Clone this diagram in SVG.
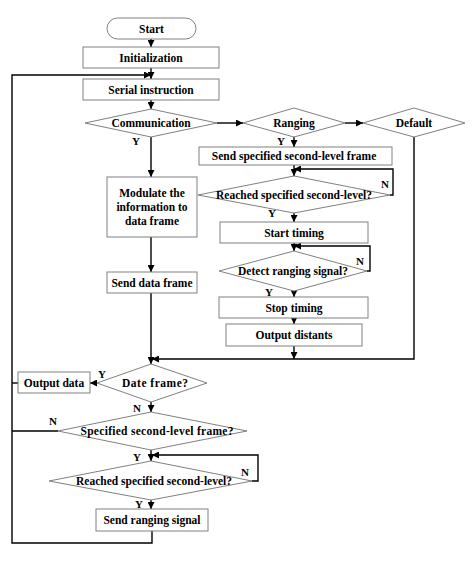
<svg xmlns="http://www.w3.org/2000/svg" width="474" height="569" viewBox="0 0 474 569">
<defs>
<style>
.n{fill:#fff;stroke:#808080;stroke-width:1}
.t{font-family:"Liberation Serif","Times New Roman",serif;font-weight:bold;font-size:11.5px;fill:#000;text-anchor:middle;dominant-baseline:central}
.l{font-family:"Liberation Serif","Times New Roman",serif;font-weight:bold;font-size:11px;fill:#000;text-anchor:middle;dominant-baseline:central}
.c{fill:none;stroke:#000;stroke-width:1.4}
</style>
<marker id="a" viewBox="0 0 8 8" refX="8" refY="4" markerWidth="7" markerHeight="7" markerUnits="userSpaceOnUse" orient="auto">
<path d="M0,0 L8,4 L0,8 Z" fill="#000"/>
</marker>
</defs>
<rect width="474" height="569" fill="#fff"/>
<g id="connectors">
<path class="c" d="M151,39 V47" marker-end="url(#a)"/>
<path class="c" d="M151,68 V79" marker-end="url(#a)"/>
<path class="c" d="M152,531 V543 H12 V75 H151" marker-end="url(#a)"/>
<path class="c" d="M151,100 V109" marker-end="url(#a)"/>
<path class="c" d="M217,123 H243" marker-end="url(#a)"/>
<path class="c" d="M345,123 H363" marker-end="url(#a)"/>
<path class="c" d="M294,137 V147" marker-end="url(#a)"/>
<path class="c" d="M294,165 V176" marker-end="url(#a)"/>
<path class="c" d="M390,195 H393 V169 H294" marker-end="url(#a)"/>
<path class="c" d="M294,213 V222" marker-end="url(#a)"/>
<path class="c" d="M294,243 V251" marker-end="url(#a)"/>
<path class="c" d="M367,271 H370 V246 H294" marker-end="url(#a)"/>
<path class="c" d="M294,291 V297" marker-end="url(#a)"/>
<path class="c" d="M294,318 V324" marker-end="url(#a)"/>
<path class="c" d="M294,346 V359" marker-end="url(#a)"/>
<path class="c" d="M414,137 V359 H152" marker-end="url(#a)"/>
<path class="c" d="M151,137 V177" marker-end="url(#a)"/>
<path class="c" d="M151,237 V272" marker-end="url(#a)"/>
<path class="c" d="M151,293 V364" marker-end="url(#a)"/>
<path class="c" d="M97,383 H90" marker-end="url(#a)"/>
<path class="c" d="M18,383 H12"/>
<path class="c" d="M151,402 V412" marker-end="url(#a)"/>
<path class="c" d="M58,431 H12"/>
<path class="c" d="M151,450 V461" marker-end="url(#a)"/>
<path class="c" d="M252,481 H258 V455 H152" marker-end="url(#a)"/>
<path class="c" d="M151,500 V509" marker-end="url(#a)"/>
<text class="l" x="136" y="141">Y</text>
<text class="l" x="281" y="141">Y</text>
<text class="l" x="385" y="184">N</text>
<text class="l" x="272" y="213">Y</text>
<text class="l" x="360" y="261">N</text>
<text class="l" x="269" y="292">Y</text>
<text class="l" x="102" y="374">Y</text>
<text class="l" x="137" y="408">N</text>
<text class="l" x="53" y="421">N</text>
<text class="l" x="137" y="457">Y</text>
<text class="l" x="245" y="472">N</text>
<text class="l" x="139" y="504">Y</text>
</g>
<g id="start"><rect class="n" x="107" y="18" width="89" height="21" rx="10.5"/><text class="t" x="151.5" y="28.5">Start</text></g>
<g id="init"><rect class="n" x="83" y="47" width="136" height="21"/><text class="t" x="151" y="57.5">Initialization</text></g>
<g id="serial"><rect class="n" x="83" y="79" width="136" height="21"/><text class="t" x="151" y="89.5">Serial instruction</text></g>
<g id="communication"><polygon class="n" points="85,123 151,109 217,123 151,137"/><text class="t" x="151" y="123">Communication</text></g>
<g id="ranging"><polygon class="n" points="243,123 294,108 345,123 294,137"/><text class="t" x="294" y="123">Ranging</text></g>
<g id="default"><polygon class="n" points="363,123 414,108 465,123 414,137"/><text class="t" x="414" y="123">Default</text></g>
<g id="sendspec"><rect class="n" x="199" y="147" width="193" height="18"/><text class="t" x="294" y="156">Send specified second-level frame</text></g>
<g id="reached1"><polygon class="n" points="198,195 294,176 390,195 294,213"/><text class="t" x="294" y="195">Reached specified second-level?</text></g>
<g id="starttiming"><rect class="n" x="220" y="222" width="148" height="21"/><text class="t" x="294" y="232.5">Start timing</text></g>
<g id="detect"><polygon class="n" points="219,271 294,251 367,271 294,291"/><text class="t" x="293" y="271">Detect ranging signal?</text></g>
<g id="stoptiming"><rect class="n" x="219" y="297" width="149" height="21"/><text class="t" x="294" y="307.5">Stop timing</text></g>
<g id="outputdist"><rect class="n" x="226" y="324" width="136" height="22"/><text class="t" x="294" y="335">Output distants</text></g>
<g id="modulate"><rect class="n" x="107" y="177" width="90" height="60"/><text class="t" x="152" y="193">Modulate the</text><text class="t" x="152" y="207">information to</text><text class="t" x="152" y="221">data frame</text></g>
<g id="senddata"><rect class="n" x="107" y="272" width="90" height="21"/><text class="t" x="152" y="282.5">Send data frame</text></g>
<g id="dateframe"><polygon class="n" points="97,383 151,364 207,383 151,402"/><text class="t" x="155" y="383" textLength="66" lengthAdjust="spacing">Date frame?</text></g>
<g id="outputdata"><rect class="n" x="18" y="372" width="72" height="21"/><text class="t" x="54" y="382.5">Output data</text></g>
<g id="specframe"><polygon class="n" points="58,431 151,412 247,431 151,450"/><text class="t" x="157" y="431" textLength="153" lengthAdjust="spacing">Specified second-level frame?</text></g>
<g id="reached2"><polygon class="n" points="49,481 151,461 252,481 151,500"/><text class="t" x="154" y="481" textLength="156" lengthAdjust="spacing">Reached specified second-level?</text></g>
<g id="sendranging"><rect class="n" x="96" y="509" width="112" height="22"/><text class="t" x="152" y="520">Send ranging signal</text></g>
</svg>
